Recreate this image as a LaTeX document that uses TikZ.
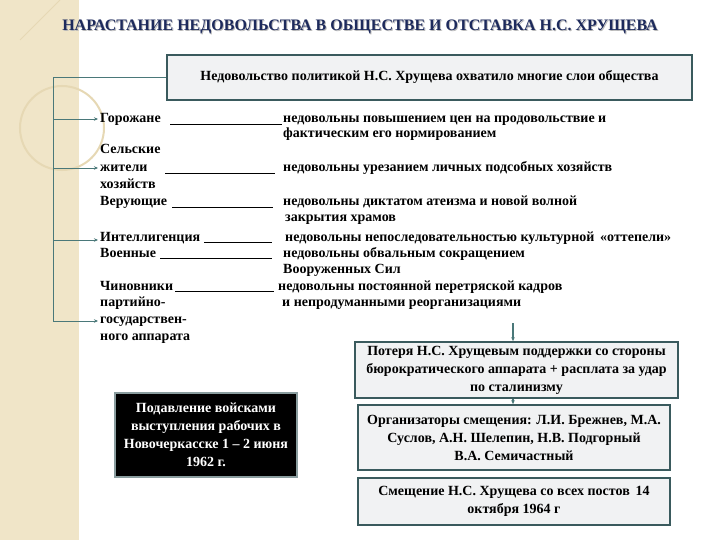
\documentclass[tikz,border=0pt]{standalone}
\usepackage{fontspec}
\setmainfont{Liberation Serif}
\usetikzlibrary{arrows.meta, positioning, calc}

\definecolor{stripe}{HTML}{F0E5C8}
\definecolor{stripearc}{HTML}{E6D8B4}
\definecolor{boxline}{HTML}{3A5A5D}
\definecolor{boxfill}{HTML}{F1F2F3}
\definecolor{linkc}{HTML}{4A7879}
\definecolor{titlec}{HTML}{1D2A5C}

\tikzset{
  txt/.style={font=\fontsize{14}{15}\selectfont\bfseries, inner sep=0pt, anchor=base west},
  infobox/.style={draw=boxline, line width=1.7pt, fill=boxfill, align=center,
    inner sep=2pt, font=\fontsize{14}{18}\selectfont\bfseries},
  link/.style={draw=linkc, line width=0.8pt},
  blankline/.style={black, line width=0.6pt}
}

\begin{document}
\begin{tikzpicture}[x=1pt, y=-1pt, >={Stealth[length=4pt, width=3.5pt]}]
  \useasboundingbox (0,0) rectangle (720,540);
  % background and left stripe
  \fill[white] (0,0) rectangle (720,540);
  \fill[stripe] (0,0) rectangle (79,540);
  \draw[stripearc, line width=2pt] (62,128) circle (42);
  \draw[stripearc, line width=1pt] (20,40) -- (60,0);

  % title
  \node[font=\fontsize{16}{18}\selectfont\bfseries, gray!55] at (361,28) {НАРАСТАНИЕ НЕДОВОЛЬСТВА В ОБЩЕСТВЕ И ОТСТАВКА Н.С. ХРУЩЕВА};
  \node[font=\fontsize{16}{18}\selectfont\bfseries, titlec] (title) at (360,27) {НАРАСТАНИЕ НЕДОВОЛЬСТВА В ОБЩЕСТВЕ И ОТСТАВКА Н.С. ХРУЩЕВА};

  % ---------------- top box ----------------
  \node[infobox, minimum width=525pt, minimum height=45pt] (discontent) at (429.5,77.5)
    {Недовольство политикой Н.С. Хрущева охватило многие слои общества};

  % ---------------- groups (left) ----------------
  \node[txt] (citizens) at (100,123) {Горожане};
  \node[txt] (rural1) at (100,154) {Сельские};
  \node[txt] (rural) at (100,172) {жители};
  \node[txt] (rural3) at (100,189) {хозяйств};
  \node[txt] (believers) at (100,206) {Верующие};
  \node[txt] (intel) at (100,241) {Интеллигенция};
  \node[txt] (army) at (100,257) {Военные};
  \node[txt] (officials) at (100,290) {Чиновники};
  \node[txt] (officials2) at (100,306) {партийно-};
  \node[txt] (officials3) at (100,323) {государствен-};
  \node[txt] (officials4) at (100,340) {ного аппарата};

  % blanks
  \draw[blankline] (170,124) -- (282,124);
  \draw[blankline] (165,173) -- (275,173);
  \draw[blankline] (172,207) -- (273,207);
  \draw[blankline] (204,242) -- (272,242);
  \draw[blankline] (160,258) -- (272,258);
  \draw[blankline] (175,291) -- (274,291);

  % ---------------- reasons (right) ----------------
  \node[txt] (why1) at (283,123) {недовольны повышением цен на продовольствие и};
  \node[txt] at (283,138) {фактическим его нормированием};
  \node[txt] (why2) at (283,172) {недовольны урезанием личных подсобных хозяйств};
  \node[txt] (why3) at (283,206) {недовольны диктатом атеизма и новой волной};
  \node[txt] at (285,222) {закрытия храмов};
  \node[txt] (why4) at (285,241) {недовольны непоследовательностью культурной \,«оттепели»};
  \node[txt] (why5) at (283,257) {недовольны обвальным сокращением};
  \node[txt] at (283,273) {Вооруженных Сил};
  \node[txt] (why6) at (278,290) {недовольны постоянной перетряской кадров};
  \node[txt] (why6b) at (282,306) {и непродуманными реорганизациями};

  % spine from top box
  \coordinate (spinetop) at (53,77.5);
  \coordinate (spinebot) at (53,321);
  \draw[link] (discontent.west) -- (spinetop) -- (spinebot);
  \draw[link, ->, shorten >=2pt] (53,119) -- (citizens.west |- 0,119);
  \draw[link, ->, shorten >=2pt] (53,168) -- (rural.west |- 0,168);
  \draw[link, ->, shorten >=2pt] (53,240) -- (intel.west |- 0,240);
  \draw[link, ->, shorten >=2pt] (spinebot) -- (officials3.west |- spinebot);

  % ---------------- chain (right bottom) ----------------
  \node[infobox, minimum width=323pt, minimum height=56pt] (support) at (516.5,370)
    {Потеря Н.С. Хрущевым поддержки со стороны\\бюрократического аппарата + расплата за удар\\по сталинизму};
  \node[infobox, minimum width=312pt, minimum height=65pt] (plotters) at (514,437.5)
    {Организаторы смещения: Л.И. Брежнев, М.А.\\Суслов, А.Н. Шелепин, Н.В. Подгорный\\В.А. Семичастный};
  \node[infobox, minimum width=312pt, minimum height=47pt] (removal) at (514,501.5)
    {Смещение Н.С. Хрущева со всех постов \,14\\октября 1964 г};
  \coordinate (chaintop) at (513,323);
  \draw[link, line width=1.6pt, ->] (chaintop) -- (chaintop |- support.north);
  \draw[link, line width=1.6pt, ->] (chaintop |- support.south) -- (chaintop |- plotters.north);

  % ---------------- Novocherkassk ----------------
  \node[infobox, fill=black, text=white, draw=boxline!60, line width=1.2pt,
    minimum width=182pt, minimum height=84pt] (novocherk) at (206,435)
    {Подавление войсками\\выступления рабочих в\\Новочеркасске 1 – 2 июня\\1962 г.};
\end{tikzpicture}
\end{document}
